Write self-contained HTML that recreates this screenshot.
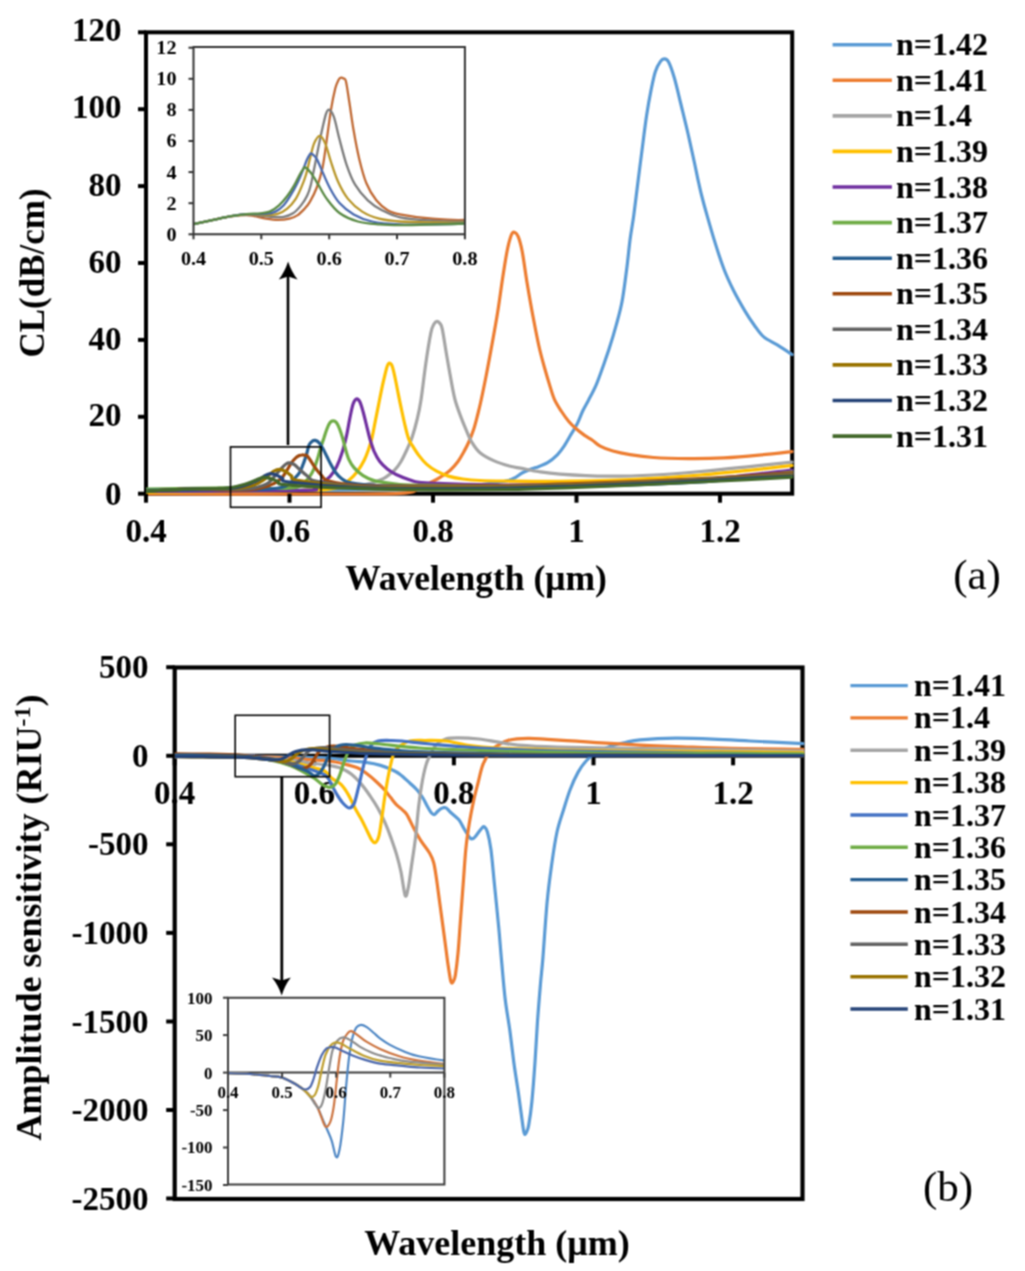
<!DOCTYPE html>
<html><head><meta charset="utf-8"><title>figure</title>
<style>html,body{margin:0;padding:0;background:#fff;} body{width:1025px;height:1271px;position:relative;overflow:hidden;font-family:"Liberation Serif",serif;}</style>
</head><body>
<svg width="1025" height="1271" viewBox="0 0 1025 1271" style="position:absolute;left:0;top:0">
<defs><filter id="bl" color-interpolation-filters="sRGB" x="0" y="0" width="1025" height="1271" filterUnits="userSpaceOnUse"><feConvolveMatrix order="3" kernelMatrix="1 2 1 2 4 2 1 2 1" divisor="16" edgeMode="duplicate"/></filter><clipPath id="ca"><rect x="146" y="0" width="648" height="500"/></clipPath><clipPath id="cb"><rect x="174.7" y="600" width="630" height="600"/></clipPath><clipPath id="cia"><rect x="193.5" y="40" width="271.5" height="200"/></clipPath><clipPath id="cib"><rect x="228" y="990" width="216.5" height="200"/></clipPath></defs>
<g filter="url(#bl)"><rect width="1025" height="1271" fill="#fff"/>
<rect x="146.0" y="32.3" width="646.2" height="461.4" fill="none" stroke="#000" stroke-width="4"/>
<g clip-path="url(#ca)" fill="none" stroke-width="3.2" stroke-linejoin="round" stroke-linecap="round">
<path d="M146.0,491.0 C171.7,490.9 249.3,491.2 300.0,490.5 C350.7,489.8 416.7,488.4 450.0,487.0 C483.3,485.6 489.4,483.4 500.0,482.0 C510.6,480.6 509.6,480.0 513.3,478.5 C517.0,477.0 519.2,474.5 522.0,473.0 C524.8,471.5 527.7,470.4 530.0,469.5 C532.3,468.6 533.0,468.7 535.9,467.6 C538.8,466.5 544.0,464.8 547.6,462.7 C551.2,460.6 554.5,457.7 557.3,454.9 C560.0,452.1 561.8,449.5 564.1,446.1 C566.4,442.7 568.9,438.0 571.0,434.4 C573.1,430.8 574.8,428.5 576.8,424.6 C578.8,420.7 580.8,415.1 582.7,411.0 C584.7,406.9 586.2,404.6 588.5,400.2 C590.8,395.8 594.0,390.0 596.3,384.6 C598.6,379.2 600.4,374.0 602.5,368.0 C604.6,362.0 606.9,355.7 609.2,348.6 C611.5,341.5 614.1,333.0 616.2,325.2 C618.3,317.4 620.2,311.2 622.0,301.8 C623.8,292.4 625.3,279.6 626.7,269.0 C628.1,258.4 629.0,247.5 630.2,238.5 C631.4,229.5 632.5,224.8 633.8,215.1 C635.1,205.3 636.9,190.3 638.2,180.0 C639.5,169.7 640.2,164.1 641.6,153.4 C643.0,142.7 645.0,126.1 646.6,115.6 C648.2,105.1 649.5,97.8 651.0,90.4 C652.5,83.1 653.8,76.3 655.4,71.5 C657.0,66.7 659.0,63.5 660.5,61.4 C662.0,59.3 662.9,58.8 664.2,58.9 C665.6,59.0 666.9,58.9 668.6,62.0 C670.3,65.2 672.3,71.0 674.3,77.8 C676.3,84.6 678.3,93.5 680.6,103.0 C682.9,112.5 685.9,124.5 688.2,134.5 C690.5,144.5 692.8,155.1 694.5,163.0 C696.2,170.9 697.3,176.7 698.5,182.0 C699.7,187.3 700.2,189.9 701.5,195.0 C702.8,200.1 704.1,205.2 706.3,212.8 C708.5,220.5 711.6,231.5 714.5,240.9 C717.4,250.3 720.8,260.8 723.9,269.0 C727.0,277.2 729.8,283.0 733.3,290.0 C736.8,297.0 741.5,305.2 745.0,311.1 C748.5,317.0 751.2,320.9 754.3,325.2 C757.4,329.5 759.8,333.6 763.7,336.9 C767.6,340.2 773.0,342.2 777.7,345.1 C782.4,348.0 789.6,352.9 792.0,354.5" stroke="#5B9BD5"/>
<path d="M146.0,494.0 C171.7,494.0 257.7,494.1 300.0,494.0 C342.3,493.9 380.0,494.4 400.0,493.3 C420.0,492.2 414.7,489.4 420.0,487.5 C425.3,485.6 428.3,483.7 431.7,482.0 C435.1,480.3 437.4,479.1 440.5,477.1 C443.6,475.1 447.3,472.8 450.2,470.2 C453.1,467.6 455.7,464.6 458.0,461.5 C460.3,458.4 462.1,454.9 463.9,451.7 C465.7,448.4 467.2,445.7 468.8,442.0 C470.4,438.3 472.2,433.8 473.7,429.3 C475.2,424.8 476.5,419.4 477.6,415.0 C478.7,410.6 479.1,409.2 480.5,403.0 C481.9,396.8 483.8,387.5 485.7,378.0 C487.6,368.5 489.7,356.9 491.7,346.0 C493.7,335.1 495.8,323.7 497.6,312.5 C499.4,301.3 500.9,289.5 502.5,279.0 C504.1,268.5 505.9,256.8 507.4,249.5 C508.9,242.2 510.2,237.9 511.3,235.0 C512.5,232.1 513.1,231.9 514.3,232.2 C515.4,232.5 516.9,233.5 518.2,236.7 C519.5,239.9 520.7,243.8 522.2,251.5 C523.7,259.2 525.3,272.2 527.1,283.0 C528.9,293.8 531.0,306.0 533.0,316.5 C535.0,327.0 537.0,337.4 538.9,346.0 C540.8,354.6 542.8,361.6 544.6,368.0 C546.4,374.4 547.9,379.4 549.5,384.6 C551.1,389.8 552.4,394.9 554.4,399.3 C556.4,403.7 558.8,407.3 561.2,411.0 C563.6,414.7 566.5,418.8 569.0,421.7 C571.5,424.6 573.3,426.2 575.9,428.5 C578.5,430.8 581.9,433.4 584.6,435.4 C587.4,437.3 589.8,438.4 592.4,440.2 C595.0,442.0 596.8,444.3 600.2,446.1 C603.6,447.9 607.9,449.6 612.9,451.0 C617.9,452.4 623.2,453.5 630.0,454.6 C636.8,455.7 643.9,456.8 653.7,457.5 C663.5,458.2 677.1,458.5 688.8,458.6 C700.5,458.7 712.2,458.5 723.9,457.9 C735.6,457.3 747.6,456.2 759.0,455.1 C770.4,454.1 786.5,452.2 792.0,451.6" stroke="#ED7D31"/>
<path d="M146.0,492.0 C171.7,491.7 266.0,490.8 300.0,490.0 C334.0,489.2 338.3,488.6 350.0,487.5 C361.7,486.4 365.0,484.8 370.0,483.5 C375.0,482.2 377.4,481.1 380.0,480.0 C382.6,478.9 383.5,478.7 385.9,477.1 C388.3,475.5 392.1,472.8 394.6,470.2 C397.1,467.6 398.9,465.1 401.0,461.5 C403.1,457.9 405.4,452.9 407.3,448.8 C409.2,444.7 410.6,442.0 412.2,437.1 C413.8,432.2 415.6,425.7 417.1,419.5 C418.6,413.3 419.6,409.2 421.0,400.0 C422.4,390.8 424.1,375.5 425.7,364.3 C427.3,353.1 429.5,339.4 430.9,332.7 C432.3,326.0 433.0,325.9 434.0,324.0 C435.0,322.1 436.1,321.4 437.1,321.3 C438.1,321.2 439.1,322.2 440.0,323.5 C440.9,324.8 441.2,323.9 442.3,329.2 C443.4,334.5 445.1,346.1 446.7,355.5 C448.3,364.9 450.6,378.0 452.0,385.4 C453.4,392.8 453.8,395.1 455.1,400.0 C456.4,404.9 458.2,409.7 460.0,414.6 C461.8,419.5 463.9,424.7 465.9,429.3 C467.8,433.9 469.3,438.1 471.7,442.0 C474.1,445.9 476.2,449.6 480.0,452.7 C483.8,455.8 489.3,458.7 494.2,460.9 C499.1,463.1 504.2,464.6 509.4,466.0 C514.5,467.4 520.3,468.1 525.1,469.0 C529.9,469.9 532.3,470.6 538.1,471.5 C543.9,472.4 548.5,473.3 560.0,474.1 C571.5,474.9 591.2,476.1 606.8,476.2 C622.4,476.3 638.1,475.8 653.7,475.0 C669.3,474.2 684.9,472.9 700.5,471.5 C716.1,470.1 732.0,468.4 747.3,466.8 C762.5,465.2 784.5,462.9 792.0,462.1" stroke="#A5A5A5"/>
<path d="M146.0,492.5 C171.7,492.2 269.3,491.1 300.0,490.5 C330.7,489.9 323.3,489.8 330.0,489.0 C336.7,488.2 336.7,487.6 340.0,486.0 C343.3,484.4 346.9,482.0 349.8,479.5 C352.7,477.0 355.1,474.4 357.5,471.2 C359.9,468.0 362.3,463.9 364.2,460.2 C366.1,456.5 367.3,452.9 368.6,449.2 C369.9,445.5 370.8,442.8 371.9,438.2 C373.0,433.6 374.1,427.1 375.2,421.6 C376.3,416.1 377.4,410.6 378.5,405.1 C379.6,399.6 380.7,393.8 381.8,388.6 C382.9,383.5 384.2,378.0 385.1,374.2 C386.0,370.4 386.6,367.8 387.3,366.0 C388.0,364.2 388.7,363.1 389.5,363.2 C390.3,363.3 391.4,364.1 392.3,366.5 C393.2,368.9 394.0,372.9 395.0,377.5 C396.0,382.1 397.2,388.5 398.3,394.1 C399.4,399.7 400.7,405.9 401.8,411.0 C402.9,416.1 403.7,419.8 404.8,424.5 C405.9,429.2 407.3,435.3 408.7,439.0 C410.1,442.7 411.3,443.7 413.0,446.5 C414.7,449.3 416.7,452.6 419.0,455.6 C421.3,458.6 423.9,461.8 426.8,464.4 C429.7,467.0 433.0,469.2 436.6,471.2 C440.2,473.1 443.9,474.8 448.3,476.1 C452.7,477.4 457.6,478.3 462.9,479.0 C468.2,479.7 473.3,480.2 480.0,480.5 C486.7,480.8 489.6,480.9 502.9,481.0 C516.2,481.1 538.8,481.5 560.0,481.3 C581.2,481.1 606.8,480.8 630.2,479.7 C653.6,478.6 673.5,477.3 700.5,475.0 C727.5,472.7 776.8,467.2 792.0,465.7" stroke="#FFC000"/>
<path d="M146.0,491.5 C171.7,491.3 271.8,491.1 300.0,490.5 C328.2,489.9 311.2,489.4 315.0,488.0 C318.8,486.6 320.5,483.9 323.0,482.0 C325.5,480.1 327.7,479.2 330.0,476.7 C332.3,474.2 334.6,470.8 336.6,466.8 C338.6,462.8 340.5,457.6 342.1,452.5 C343.8,447.4 345.2,441.6 346.5,435.9 C347.8,430.2 348.7,423.6 349.8,418.3 C350.9,413.0 352.0,407.2 353.1,404.0 C354.2,400.8 355.3,399.4 356.4,399.0 C357.5,398.6 358.7,399.7 359.8,401.8 C360.9,403.9 362.0,407.9 363.1,411.7 C364.2,415.5 365.3,420.5 366.4,424.9 C367.5,429.3 368.4,433.8 369.7,438.2 C371.0,442.6 372.5,447.5 374.1,451.4 C375.8,455.2 377.4,458.4 379.6,461.3 C381.8,464.2 384.6,466.8 387.3,469.0 C390.1,471.2 392.3,472.7 396.1,474.5 C399.9,476.3 406.2,478.7 410.0,480.0 C413.8,481.3 414.2,481.8 419.0,482.4 C423.8,483.0 425.0,483.0 438.5,483.4 C452.0,483.8 473.1,484.8 500.0,485.0 C526.9,485.2 566.7,485.3 600.0,484.5 C633.3,483.7 668.0,482.4 700.0,480.0 C732.0,477.6 776.7,471.7 792.0,470.0" stroke="#7030A0"/>
<path d="M146.0,489.0 C160.0,488.8 207.7,487.9 230.0,487.8 C252.3,487.7 268.7,488.6 280.0,488.5 C291.3,488.4 293.8,488.1 298.0,487.0 C302.2,485.9 303.0,483.8 305.0,482.0 C307.0,480.2 308.4,478.5 309.8,476.4 C311.2,474.3 312.4,472.3 313.7,469.3 C315.0,466.3 316.4,462.0 317.6,458.4 C318.8,454.8 319.6,450.9 320.7,447.5 C321.8,444.1 322.8,441.2 323.9,438.1 C324.9,435.0 326.0,431.3 327.0,428.7 C328.0,426.1 329.1,423.8 330.1,422.5 C331.1,421.2 332.1,420.9 333.2,420.9 C334.2,420.9 335.3,421.2 336.4,422.5 C337.4,423.8 338.5,426.1 339.5,428.7 C340.5,431.3 341.7,434.9 342.6,438.1 C343.6,441.3 344.2,444.5 345.2,448.0 C346.2,451.5 347.2,455.8 348.7,459.1 C350.2,462.4 351.8,465.1 354.2,467.9 C356.6,470.6 359.8,473.5 363.1,475.6 C366.4,477.7 369.5,479.3 374.1,480.6 C378.7,481.9 384.6,482.6 390.6,483.3 C396.6,484.0 391.8,484.6 410.0,485.0 C428.2,485.4 468.3,485.9 500.0,486.0 C531.7,486.1 566.7,486.3 600.0,485.5 C633.3,484.7 668.0,483.2 700.0,481.0 C732.0,478.8 776.7,473.5 792.0,472.0" stroke="#70AD47"/>
<path d="M146.0,490.3 C160.0,490.2 211.0,489.6 230.0,489.5 C249.0,489.4 250.8,490.0 260.0,489.5 C269.2,489.0 278.9,488.7 285.0,486.5 C291.1,484.3 293.9,479.0 296.5,476.4 C299.1,473.8 299.2,473.1 300.4,470.9 C301.6,468.7 302.6,466.0 303.6,463.1 C304.7,460.2 305.8,456.7 306.7,453.7 C307.6,450.7 308.1,447.2 309.0,445.1 C309.9,443.0 311.1,442.0 312.2,441.2 C313.2,440.4 314.1,440.1 315.3,440.4 C316.5,440.7 317.9,441.4 319.2,442.8 C320.5,444.2 321.8,446.7 323.1,449.0 C324.4,451.3 325.7,454.2 327.0,456.8 C328.3,459.4 329.5,462.0 330.9,464.6 C332.3,467.2 333.8,470.1 335.6,472.5 C337.4,474.9 339.4,477.0 341.8,478.7 C344.2,480.4 344.0,481.5 350.0,482.6 C356.0,483.7 361.3,484.8 378.0,485.5 C394.7,486.2 429.7,486.7 450.0,487.0 C470.3,487.3 475.0,487.7 500.0,487.5 C525.0,487.3 566.7,486.9 600.0,486.0 C633.3,485.1 668.0,484.1 700.0,482.0 C732.0,479.9 776.7,474.9 792.0,473.5" stroke="#255E91"/>
<path d="M146.0,491.2 C149.5,491.0 160.4,490.4 167.0,490.1 C173.7,489.8 179.9,489.4 185.7,489.2 C191.4,489.1 197.6,488.9 201.7,488.9 C205.9,488.9 206.9,489.1 210.4,489.2 C213.9,489.4 218.6,489.7 222.8,489.8 C226.9,490.0 231.0,490.1 235.1,490.1 C239.3,490.1 244.0,490.0 247.5,489.8 C251.0,489.6 253.5,489.4 256.2,489.0 C258.9,488.5 261.4,487.9 263.6,487.3 C265.8,486.8 267.1,486.5 269.2,485.6 C271.3,484.7 274.2,483.5 276.4,482.1 C278.6,480.7 280.7,479.2 282.4,477.2 C284.2,475.2 285.5,472.6 287.0,470.2 C288.5,467.8 289.9,465.0 291.4,462.9 C292.9,460.8 294.6,458.8 296.0,457.6 C297.3,456.4 298.3,456.0 299.3,455.5 C300.3,455.1 301.0,455.0 301.9,455.0 C302.8,454.9 303.7,455.0 304.6,455.2 C305.5,455.3 306.1,454.9 307.2,455.9 C308.2,456.9 309.5,459.1 310.9,461.1 C312.2,463.2 313.7,465.8 315.4,468.1 C317.2,470.4 319.1,473.0 321.3,475.1 C323.6,477.3 322.2,479.3 328.8,481.1 C335.5,482.8 343.9,484.8 361.2,485.6 C378.6,486.4 409.1,486.0 433.0,486.0 C456.9,486.0 480.8,486.0 504.8,485.6 C528.7,485.2 552.6,484.5 576.5,483.7 C600.4,482.9 624.3,482.0 648.2,481.0 C672.2,480.0 696.1,478.9 720.0,477.6 C743.9,476.2 779.8,473.7 791.8,472.9" stroke="#9E480E"/>
<path d="M146.0,491.2 C149.5,491.0 160.4,490.4 167.0,490.1 C173.7,489.8 179.9,489.4 185.7,489.2 C191.4,489.0 196.6,488.8 201.7,488.8 C206.8,488.8 211.8,489.0 216.3,489.1 C220.9,489.2 224.8,489.3 229.0,489.4 C233.2,489.4 237.7,489.5 241.4,489.4 C245.1,489.2 248.1,489.0 251.2,488.5 C254.3,488.0 257.4,487.2 259.9,486.5 C262.4,485.8 264.4,485.0 266.1,484.2 C267.8,483.4 268.7,482.7 270.0,481.5 C271.3,480.3 272.6,478.6 274.0,477.1 C275.3,475.5 276.6,473.9 278.0,472.3 C279.4,470.7 281.1,468.8 282.4,467.4 C283.8,466.0 285.0,464.7 286.1,464.0 C287.2,463.2 287.8,462.8 289.2,462.9 C290.6,463.0 292.5,463.4 294.4,464.6 C296.2,465.8 298.1,468.2 300.4,470.2 C302.6,472.2 305.2,474.6 307.9,476.5 C310.6,478.4 308.0,479.8 316.9,481.4 C325.8,483.1 341.9,485.5 361.2,486.4 C380.6,487.3 409.1,486.8 433.0,486.8 C456.9,486.8 480.8,486.8 504.8,486.4 C528.7,486.0 552.6,485.2 576.5,484.5 C600.4,483.7 624.3,482.8 648.2,481.8 C672.2,480.8 696.1,479.6 720.0,478.3 C743.9,477.0 779.8,474.8 791.8,474.1" stroke="#636363"/>
<path d="M146.0,491.2 C149.5,491.0 160.4,490.4 167.0,490.1 C173.7,489.8 179.9,489.5 185.7,489.2 C191.4,489.0 195.5,488.8 201.7,488.8 C207.9,488.7 217.2,489.0 222.8,489.0 C228.3,488.9 231.4,488.9 235.1,488.7 C238.9,488.4 242.0,487.9 245.1,487.3 C248.2,486.7 251.3,485.9 253.8,485.0 C256.2,484.2 258.0,483.2 259.9,482.2 C261.7,481.2 263.3,480.2 264.9,479.0 C266.4,477.9 267.6,476.4 269.0,475.1 C270.4,473.8 271.7,472.2 273.4,471.3 C275.2,470.3 277.5,469.3 279.5,469.3 C281.4,469.3 283.4,470.2 285.4,471.3 C287.4,472.4 289.1,474.2 291.4,475.8 C293.7,477.4 287.3,478.8 298.9,480.7 C310.6,482.6 338.9,486.0 361.2,487.2 C383.6,488.3 409.1,487.5 433.0,487.5 C456.9,487.5 480.8,487.5 504.8,487.2 C528.7,486.8 552.6,486.0 576.5,485.2 C600.4,484.5 624.3,483.6 648.2,482.5 C672.2,481.5 696.1,480.3 720.0,479.1 C743.9,477.9 779.8,475.9 791.8,475.2" stroke="#997300"/>
<path d="M146.0,491.2 C149.5,491.0 160.4,490.4 167.0,490.1 C173.7,489.8 179.9,489.5 185.7,489.2 C191.4,489.0 195.5,488.8 201.7,488.7 C207.9,488.6 217.6,488.8 222.8,488.7 C227.9,488.5 229.6,488.4 232.7,488.1 C235.8,487.7 238.7,487.2 241.4,486.5 C244.1,485.9 246.4,484.9 248.8,484.0 C251.1,483.1 253.3,482.2 255.4,481.2 C257.6,480.2 259.7,478.9 261.5,477.9 C263.2,476.9 264.7,475.9 265.9,475.3 C267.1,474.6 267.9,474.4 268.7,474.1 C269.5,473.8 269.5,473.5 270.8,473.7 C272.1,473.9 274.4,474.4 276.4,475.1 C278.3,475.9 280.2,477.1 282.4,478.3 C284.7,479.4 276.8,480.5 289.9,482.1 C303.1,483.7 337.4,486.9 361.2,487.9 C385.1,489.0 409.1,488.5 433.0,488.5 C456.9,488.5 480.8,488.5 504.8,488.1 C528.7,487.7 552.6,486.8 576.5,486.0 C600.4,485.2 624.3,484.3 648.2,483.3 C672.2,482.3 696.1,481.1 720.0,479.9 C743.9,478.6 779.8,476.7 791.8,476.0" stroke="#264478"/>
<path d="M146.0,491.2 C149.5,491.0 160.4,490.4 167.0,490.1 C173.7,489.8 179.9,489.5 185.7,489.2 C191.4,489.0 196.6,488.8 201.7,488.7 C206.9,488.6 212.4,488.6 216.5,488.5 C220.7,488.4 223.2,488.4 226.5,488.1 C229.8,487.8 233.3,487.2 236.4,486.5 C239.5,485.9 242.3,485.1 245.0,484.3 C247.7,483.5 250.2,482.5 252.5,481.6 C254.7,480.7 256.9,479.6 258.4,478.9 C260.0,478.3 260.8,478.0 261.8,477.7 C262.7,477.4 262.7,477.0 264.1,477.2 C265.6,477.3 268.2,477.9 270.5,478.6 C272.8,479.3 275.2,480.4 278.0,481.4 C280.7,482.5 273.1,483.7 287.0,484.9 C300.8,486.2 336.9,487.9 361.2,488.7 C385.6,489.5 409.1,489.7 433.0,489.9 C456.9,490.0 480.8,489.9 504.8,489.5 C528.7,489.1 552.6,488.2 576.5,487.4 C600.4,486.5 624.3,485.5 648.2,484.5 C672.2,483.4 696.1,482.2 720.0,481.0 C743.9,479.8 779.8,477.8 791.8,477.2" stroke="#43682B"/>
</g>
<line x1="138.0" y1="493.7" x2="146.0" y2="493.7" stroke="#000" stroke-width="4"/>
<text x="121.5" y="504.5" text-anchor="end" font-family='"Liberation Serif", serif' font-weight="bold" font-size="33">0</text>
<line x1="138.0" y1="416.8" x2="146.0" y2="416.8" stroke="#000" stroke-width="4"/>
<text x="121.5" y="426.2" text-anchor="end" font-family='"Liberation Serif", serif' font-weight="bold" font-size="33">20</text>
<line x1="138.0" y1="339.9" x2="146.0" y2="339.9" stroke="#000" stroke-width="4"/>
<text x="121.5" y="349.8" text-anchor="end" font-family='"Liberation Serif", serif' font-weight="bold" font-size="33">40</text>
<line x1="138.0" y1="263.0" x2="146.0" y2="263.0" stroke="#000" stroke-width="4"/>
<text x="121.5" y="273.2" text-anchor="end" font-family='"Liberation Serif", serif' font-weight="bold" font-size="33">60</text>
<line x1="138.0" y1="186.1" x2="146.0" y2="186.1" stroke="#000" stroke-width="4"/>
<text x="121.5" y="196.4" text-anchor="end" font-family='"Liberation Serif", serif' font-weight="bold" font-size="33">80</text>
<line x1="138.0" y1="109.2" x2="146.0" y2="109.2" stroke="#000" stroke-width="4"/>
<text x="121.5" y="117.8" text-anchor="end" font-family='"Liberation Serif", serif' font-weight="bold" font-size="33">100</text>
<line x1="138.0" y1="32.3" x2="146.0" y2="32.3" stroke="#000" stroke-width="4"/>
<text x="121.5" y="41.0" text-anchor="end" font-family='"Liberation Serif", serif' font-weight="bold" font-size="33">120</text>
<line x1="146.0" y1="493.7" x2="146.0" y2="502.7" stroke="#000" stroke-width="4"/>
<text x="146.0" y="542" text-anchor="middle" font-family='"Liberation Serif", serif' font-weight="bold" font-size="33">0.4</text>
<line x1="289.5" y1="493.7" x2="289.5" y2="502.7" stroke="#000" stroke-width="4"/>
<text x="289.5" y="542" text-anchor="middle" font-family='"Liberation Serif", serif' font-weight="bold" font-size="33">0.6</text>
<line x1="433.0" y1="493.7" x2="433.0" y2="502.7" stroke="#000" stroke-width="4"/>
<text x="433.0" y="542" text-anchor="middle" font-family='"Liberation Serif", serif' font-weight="bold" font-size="33">0.8</text>
<line x1="576.5" y1="493.7" x2="576.5" y2="502.7" stroke="#000" stroke-width="4"/>
<text x="576.5" y="542" text-anchor="middle" font-family='"Liberation Serif", serif' font-weight="bold" font-size="33">1</text>
<line x1="720.0" y1="493.7" x2="720.0" y2="502.7" stroke="#000" stroke-width="4"/>
<text x="720.0" y="542" text-anchor="middle" font-family='"Liberation Serif", serif' font-weight="bold" font-size="33">1.2</text>
<text transform="translate(44,273) rotate(-90)" text-anchor="middle" font-family='"Liberation Serif", serif' font-weight="bold" font-size="35">CL(dB/cm)</text>
<text x="476" y="590" text-anchor="middle" font-family='"Liberation Serif", serif' font-weight="bold" font-size="35.5">Wavelength (μm)</text>
<text x="977" y="589" text-anchor="middle" font-family='"Liberation Serif", serif' font-size="43">(a)</text>
<line x1="832.6" y1="44.7" x2="891.9" y2="44.7" stroke="#5B9BD5" stroke-width="3.6"/>
<text x="896" y="55.2" font-family='"Liberation Serif", serif' font-weight="bold" font-size="32">n=1.42</text>
<line x1="832.6" y1="80.3" x2="891.9" y2="80.3" stroke="#ED7D31" stroke-width="3.6"/>
<text x="896" y="90.8" font-family='"Liberation Serif", serif' font-weight="bold" font-size="32">n=1.41</text>
<line x1="832.6" y1="115.9" x2="891.9" y2="115.9" stroke="#A5A5A5" stroke-width="3.6"/>
<text x="896" y="126.4" font-family='"Liberation Serif", serif' font-weight="bold" font-size="32">n=1.4</text>
<line x1="832.6" y1="151.4" x2="891.9" y2="151.4" stroke="#FFC000" stroke-width="3.6"/>
<text x="896" y="161.9" font-family='"Liberation Serif", serif' font-weight="bold" font-size="32">n=1.39</text>
<line x1="832.6" y1="187.0" x2="891.9" y2="187.0" stroke="#7030A0" stroke-width="3.6"/>
<text x="896" y="197.5" font-family='"Liberation Serif", serif' font-weight="bold" font-size="32">n=1.38</text>
<line x1="832.6" y1="222.6" x2="891.9" y2="222.6" stroke="#70AD47" stroke-width="3.6"/>
<text x="896" y="233.1" font-family='"Liberation Serif", serif' font-weight="bold" font-size="32">n=1.37</text>
<line x1="832.6" y1="258.2" x2="891.9" y2="258.2" stroke="#255E91" stroke-width="3.6"/>
<text x="896" y="268.7" font-family='"Liberation Serif", serif' font-weight="bold" font-size="32">n=1.36</text>
<line x1="832.6" y1="293.8" x2="891.9" y2="293.8" stroke="#9E480E" stroke-width="3.6"/>
<text x="896" y="304.3" font-family='"Liberation Serif", serif' font-weight="bold" font-size="32">n=1.35</text>
<line x1="832.6" y1="329.3" x2="891.9" y2="329.3" stroke="#636363" stroke-width="3.6"/>
<text x="896" y="339.8" font-family='"Liberation Serif", serif' font-weight="bold" font-size="32">n=1.34</text>
<line x1="832.6" y1="364.9" x2="891.9" y2="364.9" stroke="#997300" stroke-width="3.6"/>
<text x="896" y="375.4" font-family='"Liberation Serif", serif' font-weight="bold" font-size="32">n=1.33</text>
<line x1="832.6" y1="400.5" x2="891.9" y2="400.5" stroke="#264478" stroke-width="3.6"/>
<text x="896" y="411.0" font-family='"Liberation Serif", serif' font-weight="bold" font-size="32">n=1.32</text>
<line x1="832.6" y1="436.1" x2="891.9" y2="436.1" stroke="#43682B" stroke-width="3.6"/>
<text x="896" y="446.6" font-family='"Liberation Serif", serif' font-weight="bold" font-size="32">n=1.31</text>
<rect x="193.5" y="47.1" width="271.4" height="187.20000000000002" fill="#fff" stroke="none"/>
<g clip-path="url(#cia)" fill="none" stroke-width="2.3" stroke-linejoin="round">
<path d="M193.5,224.1 C196.8,223.4 207.2,221.1 213.4,219.8 C219.7,218.5 225.5,217.1 231.0,216.3 C236.5,215.5 242.3,215.0 246.2,215.0 C250.1,215.0 251.1,215.6 254.4,216.2 C257.7,216.8 262.2,218.0 266.1,218.6 C270.0,219.2 273.9,219.8 277.8,219.8 C281.7,219.8 286.2,219.4 289.5,218.6 C292.8,217.8 295.2,216.8 297.7,215.1 C300.2,213.4 302.6,210.8 304.7,208.6 C306.8,206.3 308.0,205.1 310.0,201.6 C312.0,198.1 314.7,193.2 316.8,187.5 C318.9,181.8 320.8,175.7 322.5,167.7 C324.2,159.7 325.4,149.0 326.8,139.3 C328.2,129.6 329.6,118.1 331.0,109.6 C332.4,101.1 334.1,93.2 335.3,88.3 C336.6,83.4 337.6,81.8 338.5,80.0 C339.4,78.2 340.1,77.9 340.9,77.7 C341.7,77.4 342.7,77.9 343.5,78.5 C344.3,79.1 344.9,77.3 345.9,81.3 C346.9,85.3 348.1,94.2 349.4,102.5 C350.7,110.8 352.0,121.4 353.7,130.8 C355.3,140.2 357.2,150.4 359.3,159.2 C361.4,167.9 363.6,176.5 366.4,183.3 C369.2,190.2 372.8,195.8 376.3,200.3 C379.9,204.8 383.7,207.8 387.7,210.2 C391.6,212.5 392.9,213.0 400.0,214.4 C407.1,215.8 419.2,217.6 430.0,218.5 C440.8,219.4 447.8,220.5 464.9,220.0 C482.0,219.5 510.1,218.1 532.8,215.6 C555.4,213.2 578.0,209.4 600.6,205.5 C623.2,201.6 645.8,197.2 668.5,192.3 C691.1,187.4 713.7,181.9 736.3,176.0 C758.9,170.0 792.8,159.8 804.1,156.6" stroke="#C06A35"/>
<path d="M193.5,224.1 C196.8,223.4 207.2,221.1 213.4,219.8 C219.7,218.5 225.5,217.1 231.0,216.2 C236.5,215.3 241.4,214.5 246.2,214.4 C251.0,214.3 255.7,215.1 260.0,215.5 C264.3,215.9 268.1,216.6 272.0,216.8 C275.9,217.0 280.2,217.4 283.7,216.8 C287.2,216.2 290.1,215.2 293.0,213.3 C295.9,211.4 298.9,208.0 301.2,205.1 C303.6,202.2 305.5,199.2 307.1,195.8 C308.7,192.5 309.6,189.8 310.8,185.0 C312.0,180.2 313.2,173.2 314.5,167.0 C315.8,160.8 317.0,154.3 318.3,147.8 C319.6,141.3 321.2,133.6 322.5,128.0 C323.8,122.4 324.9,117.1 326.0,114.0 C327.1,110.9 327.6,109.2 328.9,109.6 C330.2,110.1 332.0,111.8 333.8,116.7 C335.6,121.7 337.4,131.3 339.5,139.3 C341.6,147.3 344.0,157.2 346.6,164.8 C349.2,172.4 351.6,178.8 355.1,184.7 C358.6,190.6 363.3,196.1 367.8,200.3 C372.3,204.6 376.6,207.4 382.0,210.2 C387.4,213.0 392.0,215.6 400.0,217.3 C408.0,219.0 419.2,219.8 430.0,220.5 C440.8,221.2 447.8,222.1 464.9,221.5 C482.0,220.9 510.1,219.5 532.8,217.2 C555.4,214.9 578.0,211.5 600.6,207.9 C623.2,204.2 645.8,200.1 668.5,195.4 C691.1,190.8 713.7,185.6 736.3,179.9 C758.9,174.2 792.8,164.3 804.1,161.2" stroke="#7C7C7C"/>
<path d="M193.5,224.1 C196.8,223.4 207.2,221.1 213.4,219.8 C219.7,218.5 225.5,217.1 231.0,216.2 C236.5,215.3 240.3,214.5 246.2,214.3 C252.0,214.1 260.8,215.2 266.1,215.1 C271.4,215.0 274.3,215.0 277.8,213.9 C281.3,212.8 284.3,211.0 287.2,208.6 C290.1,206.2 293.1,202.8 295.4,199.3 C297.7,195.8 299.5,191.7 301.2,187.6 C303.0,183.5 304.5,179.7 305.9,175.0 C307.3,170.3 308.5,164.4 309.8,159.2 C311.2,154.0 312.4,147.5 314.0,143.6 C315.7,139.7 317.8,135.8 319.7,135.8 C321.6,135.8 323.4,139.2 325.3,143.6 C327.2,148.0 328.9,155.6 331.0,162.0 C333.1,168.4 335.3,175.7 338.1,181.8 C340.9,188.0 344.0,193.9 348.0,198.9 C352.0,203.9 357.0,208.3 362.2,211.6 C367.4,214.9 372.9,217.0 379.2,218.7 C385.5,220.3 391.5,220.9 400.0,221.5 C408.5,222.1 419.2,222.2 430.0,222.3 C440.8,222.4 447.8,223.0 464.9,222.3 C482.0,221.6 510.1,220.1 532.8,218.0 C555.4,215.8 578.0,212.8 600.6,209.4 C623.2,206.1 645.8,202.2 668.5,197.8 C691.1,193.4 713.7,188.3 736.3,183.0 C758.9,177.7 792.8,168.7 804.1,165.9" stroke="#B8962A"/>
<path d="M193.5,224.1 C196.8,223.4 207.2,221.1 213.4,219.8 C219.7,218.5 225.5,217.1 231.0,216.2 C236.5,215.3 240.3,214.6 246.2,214.2 C252.0,213.8 261.2,214.3 266.1,213.9 C271.0,213.5 272.6,213.0 275.5,211.6 C278.4,210.2 281.2,208.0 283.7,205.3 C286.2,202.6 288.5,198.8 290.7,195.2 C292.9,191.6 295.0,187.9 297.0,183.8 C299.0,179.7 301.1,174.5 302.7,170.5 C304.3,166.5 305.8,162.4 306.9,159.8 C308.0,157.2 308.7,156.1 309.5,155.0 C310.3,153.9 310.3,152.8 311.5,153.5 C312.7,154.2 315.0,156.1 316.8,159.2 C318.6,162.3 320.4,167.2 322.5,171.9 C324.6,176.6 326.8,182.3 329.6,187.5 C332.4,192.7 335.5,198.6 339.5,203.1 C343.5,207.6 348.3,211.3 353.7,214.4 C359.1,217.5 364.4,219.8 372.1,221.5 C379.8,223.2 390.4,223.9 400.0,224.4 C409.6,224.9 419.2,224.5 430.0,224.3 C440.8,224.2 447.8,224.4 464.9,223.5 C482.0,222.6 510.1,220.8 532.8,218.8 C555.4,216.7 578.0,214.1 600.6,211.0 C623.2,207.9 645.8,204.2 668.5,200.1 C691.1,195.9 713.7,191.0 736.3,186.1 C758.9,181.2 792.8,173.1 804.1,170.5" stroke="#4A6AAE"/>
<path d="M193.5,224.1 C196.8,223.4 207.2,221.1 213.4,219.8 C219.7,218.5 225.5,217.1 231.0,216.2 C236.5,215.3 241.3,214.7 246.2,214.2 C251.1,213.7 256.3,213.7 260.2,213.3 C264.1,212.9 266.5,212.9 269.6,211.6 C272.7,210.3 276.1,207.9 279.0,205.3 C281.9,202.8 284.6,199.6 287.1,196.3 C289.6,193.0 292.1,188.9 294.2,185.3 C296.3,181.7 298.3,177.1 299.8,174.5 C301.3,171.9 302.1,170.7 303.0,169.5 C303.9,168.3 303.8,166.8 305.2,167.4 C306.6,168.0 309.0,170.4 311.2,173.3 C313.4,176.2 315.7,180.4 318.3,184.7 C320.9,189.0 323.3,194.2 326.8,198.9 C330.3,203.6 334.3,209.2 339.5,213.0 C344.7,216.8 351.3,219.6 357.9,221.5 C364.5,223.4 372.2,223.8 379.2,224.4 C386.2,225.0 391.5,225.1 400.0,225.1 C408.5,225.1 419.2,224.8 430.0,224.5 C440.8,224.2 447.8,224.3 464.9,223.5 C482.0,222.7 510.1,221.4 532.8,219.5 C555.4,217.7 578.0,215.5 600.6,212.5 C623.2,209.5 645.8,205.5 668.5,201.6 C691.1,197.8 713.7,193.6 736.3,189.2 C758.9,184.8 792.8,177.5 804.1,175.2" stroke="#5A8A45"/>
</g>
<path d="M193.5,234.3 V47.1 H464.9 V234.3 Z" fill="none" stroke="#333" stroke-width="2"/>
<line x1="188.5" y1="234.3" x2="193.5" y2="234.3" stroke="#333" stroke-width="2"/>
<text x="176.5" y="240.8" text-anchor="end" font-family='"Liberation Serif", serif' font-weight="bold" font-size="18" transform="translate(176.5,0) scale(1.12,1) translate(-176.5,0)">0</text>
<line x1="188.5" y1="203.2" x2="193.5" y2="203.2" stroke="#333" stroke-width="2"/>
<text x="176.5" y="209.7" text-anchor="end" font-family='"Liberation Serif", serif' font-weight="bold" font-size="18" transform="translate(176.5,0) scale(1.12,1) translate(-176.5,0)">2</text>
<line x1="188.5" y1="172.1" x2="193.5" y2="172.1" stroke="#333" stroke-width="2"/>
<text x="176.5" y="178.6" text-anchor="end" font-family='"Liberation Serif", serif' font-weight="bold" font-size="18" transform="translate(176.5,0) scale(1.12,1) translate(-176.5,0)">4</text>
<line x1="188.5" y1="141.0" x2="193.5" y2="141.0" stroke="#333" stroke-width="2"/>
<text x="176.5" y="147.5" text-anchor="end" font-family='"Liberation Serif", serif' font-weight="bold" font-size="18" transform="translate(176.5,0) scale(1.12,1) translate(-176.5,0)">6</text>
<line x1="188.5" y1="109.9" x2="193.5" y2="109.9" stroke="#333" stroke-width="2"/>
<text x="176.5" y="116.4" text-anchor="end" font-family='"Liberation Serif", serif' font-weight="bold" font-size="18" transform="translate(176.5,0) scale(1.12,1) translate(-176.5,0)">8</text>
<line x1="188.5" y1="78.8" x2="193.5" y2="78.8" stroke="#333" stroke-width="2"/>
<text x="176.5" y="85.3" text-anchor="end" font-family='"Liberation Serif", serif' font-weight="bold" font-size="18" transform="translate(176.5,0) scale(1.12,1) translate(-176.5,0)">10</text>
<line x1="188.5" y1="47.7" x2="193.5" y2="47.7" stroke="#333" stroke-width="2"/>
<text x="176.5" y="54.2" text-anchor="end" font-family='"Liberation Serif", serif' font-weight="bold" font-size="18" transform="translate(176.5,0) scale(1.12,1) translate(-176.5,0)">12</text>
<line x1="193.5" y1="234.3" x2="193.5" y2="239.3" stroke="#333" stroke-width="2"/>
<text x="193.5" y="264.8" text-anchor="middle" font-family='"Liberation Serif", serif' font-weight="bold" font-size="18" transform="translate(193.5,0) scale(1.12,1) translate(-193.5,0)">0.4</text>
<line x1="261.3" y1="234.3" x2="261.3" y2="239.3" stroke="#333" stroke-width="2"/>
<text x="261.3" y="264.8" text-anchor="middle" font-family='"Liberation Serif", serif' font-weight="bold" font-size="18" transform="translate(261.3,0) scale(1.12,1) translate(-261.3,0)">0.5</text>
<line x1="329.2" y1="234.3" x2="329.2" y2="239.3" stroke="#333" stroke-width="2"/>
<text x="329.2" y="264.8" text-anchor="middle" font-family='"Liberation Serif", serif' font-weight="bold" font-size="18" transform="translate(329.2,0) scale(1.12,1) translate(-329.2,0)">0.6</text>
<line x1="397.0" y1="234.3" x2="397.0" y2="239.3" stroke="#333" stroke-width="2"/>
<text x="397.0" y="264.8" text-anchor="middle" font-family='"Liberation Serif", serif' font-weight="bold" font-size="18" transform="translate(397.0,0) scale(1.12,1) translate(-397.0,0)">0.7</text>
<line x1="464.9" y1="234.3" x2="464.9" y2="239.3" stroke="#333" stroke-width="2"/>
<text x="464.9" y="264.8" text-anchor="middle" font-family='"Liberation Serif", serif' font-weight="bold" font-size="18" transform="translate(464.9,0) scale(1.12,1) translate(-464.9,0)">0.8</text>
<rect x="230.5" y="446.9" width="90.6" height="60.4" fill="none" stroke="#000" stroke-width="1.6"/>
<line x1="288" y1="445" x2="288" y2="275" stroke="#000" stroke-width="2.6"/>
<path d="M288.1,261.6 Q291.5,272 297.6,279.6 L288.1,276.6 L278.8,279.6 Q284.7,272 288.1,261.6 Z" fill="#000"/>
<text x="174.7" y="804" text-anchor="middle" font-family='"Liberation Serif", serif' font-weight="bold" font-size="33">0.4</text>
<text x="314.3" y="804" text-anchor="middle" font-family='"Liberation Serif", serif' font-weight="bold" font-size="33">0.6</text>
<text x="453.9" y="804" text-anchor="middle" font-family='"Liberation Serif", serif' font-weight="bold" font-size="33">0.8</text>
<text x="593.5" y="804" text-anchor="middle" font-family='"Liberation Serif", serif' font-weight="bold" font-size="33">1</text>
<text x="733.1" y="804" text-anchor="middle" font-family='"Liberation Serif", serif' font-weight="bold" font-size="33">1.2</text>
<rect x="174.7" y="667.5" width="627.8" height="531.5" fill="none" stroke="#000" stroke-width="4.2"/>
<line x1="174.7" y1="755.8" x2="802.5" y2="755.8" stroke="#000" stroke-width="4"/>
<line x1="174.7" y1="755.8" x2="174.7" y2="765.3" stroke="#000" stroke-width="4"/>
<line x1="314.3" y1="755.8" x2="314.3" y2="765.3" stroke="#000" stroke-width="4"/>
<line x1="453.9" y1="755.8" x2="453.9" y2="765.3" stroke="#000" stroke-width="4"/>
<line x1="593.5" y1="755.8" x2="593.5" y2="765.3" stroke="#000" stroke-width="4"/>
<line x1="733.1" y1="755.8" x2="733.1" y2="765.3" stroke="#000" stroke-width="4"/>
<g clip-path="url(#cb)" fill="none" stroke-width="3.2" stroke-linejoin="round" stroke-linecap="round">
<path d="M174.7,756.2 C187.2,756.2 230.8,756.3 250.0,756.4 C269.2,756.5 279.2,756.8 290.0,757.0 C300.8,757.2 308.4,757.4 315.0,757.6 C321.6,757.8 323.3,757.4 329.3,758.0 C335.3,758.6 345.1,760.3 351.2,761.0 C357.3,761.7 361.0,761.7 365.9,762.4 C370.8,763.1 375.6,763.9 380.5,765.4 C385.4,766.9 391.5,769.4 395.1,771.2 C398.7,773.0 399.6,774.0 402.0,776.0 C404.4,778.0 407.3,780.7 409.8,783.0 C412.3,785.3 414.9,787.5 417.1,790.0 C419.3,792.5 421.2,795.3 422.9,798.0 C424.6,800.7 425.9,803.8 427.3,806.3 C428.7,808.8 430.3,811.6 431.5,813.0 C432.7,814.4 433.6,814.8 434.6,814.5 C435.6,814.2 436.5,812.4 437.5,811.5 C438.5,810.6 439.5,809.6 440.5,809.0 C441.5,808.4 442.3,807.9 443.3,807.7 C444.3,807.5 445.2,807.3 446.3,808.0 C447.4,808.7 448.1,810.0 450.2,812.0 C452.3,814.0 456.4,816.8 458.9,819.8 C461.3,822.8 463.0,827.2 464.9,830.2 C466.8,833.2 468.7,836.6 470.1,838.0 C471.5,839.4 472.4,838.9 473.4,838.5 C474.4,838.1 474.7,837.2 476.2,835.4 C477.7,833.6 480.9,829.0 482.3,827.6 C483.7,826.2 483.6,826.3 484.5,827.0 C485.4,827.7 486.3,828.3 487.4,832.0 C488.5,835.7 489.7,840.6 490.9,849.3 C492.1,857.9 493.1,870.9 494.4,883.9 C495.7,896.9 497.5,914.5 498.7,927.2 C499.9,939.9 500.4,948.0 501.5,960.0 C502.6,972.0 503.8,987.5 505.2,999.3 C506.6,1011.1 508.5,1020.3 509.9,1030.8 C511.3,1041.3 512.4,1051.7 513.8,1062.2 C515.2,1072.7 517.2,1084.4 518.5,1093.6 C519.8,1102.8 520.9,1111.1 521.7,1117.2 C522.5,1123.3 523.0,1127.2 523.5,1130.0 C524.0,1132.8 524.2,1134.0 524.7,1134.3 C525.2,1134.6 525.8,1133.5 526.5,1132.0 C527.2,1130.5 527.8,1130.2 528.7,1125.1 C529.6,1120.0 530.9,1112.0 531.9,1101.5 C532.9,1091.0 534.1,1075.3 535.0,1062.2 C535.9,1049.1 536.5,1036.0 537.4,1022.9 C538.3,1009.8 539.6,994.4 540.5,983.6 C541.4,972.8 541.8,971.7 542.9,958.0 C544.0,944.3 545.7,917.1 547.2,901.2 C548.7,885.4 550.3,874.4 551.9,862.9 C553.5,851.4 555.1,840.8 557.0,832.0 C558.9,823.2 561.3,817.0 563.5,810.0 C565.7,803.0 567.6,796.3 570.0,790.0 C572.4,783.7 575.2,777.4 578.0,772.4 C580.8,767.4 583.8,763.4 587.0,760.0 C590.2,756.6 593.2,754.2 597.0,752.0 C600.8,749.8 605.3,748.1 610.0,746.5 C614.7,744.9 620.4,743.6 625.4,742.5 C630.4,741.4 631.6,740.5 640.0,739.8 C648.4,739.1 663.5,738.3 675.6,738.2 C687.7,738.1 700.3,738.6 712.7,739.1 C725.1,739.6 734.8,740.2 749.8,741.0 C764.8,741.8 794.1,743.2 803.0,743.7" stroke="#5B9BD5"/>
<path d="M174.7,755.6 C187.2,755.7 230.8,755.8 250.0,756.2 C269.2,756.6 279.2,757.6 290.0,758.2 C300.8,758.8 308.4,759.5 315.0,760.0 C321.6,760.5 324.5,760.4 329.3,761.0 C334.1,761.6 339.0,762.7 343.9,763.9 C348.8,765.1 354.6,766.6 358.5,768.3 C362.4,770.0 364.4,771.9 367.3,774.1 C370.2,776.3 373.2,778.8 376.1,781.5 C379.0,784.2 382.5,787.5 384.9,790.2 C387.3,792.9 388.8,795.2 390.7,797.6 C392.6,800.0 394.7,802.9 396.6,804.9 C398.6,806.9 400.7,808.2 402.4,809.8 C404.1,811.4 405.0,811.5 406.9,814.6 C408.8,817.7 411.6,824.2 413.9,828.5 C416.2,832.8 418.2,836.6 420.8,840.6 C423.4,844.6 427.2,849.0 429.4,852.7 C431.6,856.5 432.5,857.9 433.8,863.1 C435.1,868.3 436.1,876.1 437.2,883.9 C438.3,891.7 439.5,901.2 440.7,909.9 C441.9,918.5 443.0,927.1 444.2,935.8 C445.4,944.4 446.6,954.4 447.6,961.8 C448.7,969.2 449.8,976.5 450.5,980.0 C451.2,983.5 451.4,982.8 451.9,983.0 C452.4,983.2 452.9,982.3 453.5,981.0 C454.1,979.7 454.6,979.6 455.4,975.0 C456.1,970.4 457.1,962.6 458.0,953.2 C458.9,943.8 459.7,930.0 460.6,918.5 C461.5,907.0 462.3,895.4 463.2,883.9 C464.1,872.4 464.8,859.4 465.8,849.3 C466.8,839.2 468.0,831.4 469.3,823.3 C470.6,815.2 472.2,807.4 473.6,800.8 C475.0,794.2 476.3,789.5 477.9,783.5 C479.4,777.5 480.8,770.0 482.9,764.6 C485.0,759.2 488.1,754.3 490.7,751.0 C493.3,747.7 495.6,746.8 498.5,745.0 C501.4,743.2 503.4,741.3 508.3,740.2 C513.2,739.1 521.3,738.4 527.8,738.3 C534.3,738.1 539.2,738.8 547.3,739.3 C555.4,739.8 566.8,740.6 576.6,741.2 C586.4,741.9 595.3,742.6 605.9,743.2 C616.5,743.9 628.4,744.6 640.0,745.1 C651.6,745.6 660.4,746.0 675.6,746.5 C690.8,747.0 710.0,747.9 731.2,748.4 C752.4,748.9 791.0,749.1 803.0,749.3" stroke="#ED7D31"/>
<path d="M174.7,756.8 C187.2,756.9 230.8,756.8 250.0,757.3 C269.2,757.8 280.0,759.0 290.0,760.0 C300.0,761.0 303.4,762.1 310.0,763.0 C316.6,763.9 324.1,764.5 329.3,765.4 C334.5,766.3 337.4,766.8 341.0,768.3 C344.6,769.8 347.8,771.4 351.2,774.1 C354.6,776.8 358.3,780.7 361.5,784.4 C364.7,788.1 367.5,792.2 370.2,796.1 C372.9,800.0 375.2,803.4 377.6,807.8 C380.1,812.2 382.7,817.5 384.9,822.4 C387.1,827.3 388.8,831.7 390.7,837.1 C392.6,842.5 394.9,848.8 396.6,854.6 C398.3,860.4 399.6,865.2 401.0,872.0 C402.4,878.8 404.0,892.8 405.2,895.5 C406.4,898.2 407.2,892.6 408.2,888.0 C409.2,883.4 410.0,876.5 411.2,868.0 C412.4,859.5 414.4,847.1 415.6,837.1 C416.8,827.1 417.5,816.3 418.5,807.8 C419.5,799.3 420.3,793.0 421.5,785.9 C422.7,778.8 424.4,770.5 425.9,765.4 C427.3,760.3 428.5,758.5 430.2,755.1 C431.9,751.7 433.4,747.6 436.1,744.9 C438.8,742.2 442.4,740.0 446.3,738.8 C450.2,737.6 454.1,737.8 459.5,737.8 C464.9,737.8 472.5,738.3 479.0,739.0 C485.5,739.7 492.0,741.2 498.5,742.2 C505.0,743.2 508.2,744.3 518.0,745.1 C527.8,745.9 536.8,746.5 557.1,747.1 C577.4,747.7 599.0,747.9 640.0,748.5 C681.0,749.1 775.8,750.6 803.0,751.0" stroke="#A5A5A5"/>
<path d="M174.7,756.5 C187.2,756.6 232.4,756.6 250.0,757.2 C267.6,757.8 271.7,758.9 280.0,760.0 C288.3,761.1 294.2,762.7 300.0,764.0 C305.8,765.3 310.9,766.8 315.0,768.0 C319.1,769.2 322.0,769.5 324.9,771.2 C327.8,773.0 329.5,776.3 332.2,778.5 C334.9,780.7 338.3,781.7 341.0,784.4 C343.7,787.1 345.9,790.5 348.3,794.6 C350.7,798.8 353.4,805.1 355.6,809.3 C357.8,813.4 359.6,815.9 361.5,819.5 C363.4,823.1 365.6,827.8 367.3,831.2 C369.0,834.6 370.4,838.1 371.7,840.0 C373.0,841.9 374.2,843.2 375.4,842.5 C376.6,841.8 377.9,839.9 379.0,835.6 C380.1,831.3 381.0,823.2 382.0,816.6 C383.0,810.0 383.9,802.5 384.9,796.1 C385.9,789.8 386.7,784.4 387.8,778.5 C388.9,772.6 390.4,765.4 391.5,761.0 C392.6,756.6 393.1,754.5 394.5,752.0 C395.9,749.5 397.4,747.8 400.0,746.0 C402.6,744.2 405.8,741.9 410.0,741.0 C414.2,740.1 419.0,740.5 425.0,740.5 C431.0,740.5 438.5,740.2 446.0,741.0 C453.5,741.8 461.3,744.3 470.0,745.5 C478.7,746.7 483.5,747.2 498.0,748.0 C512.5,748.8 533.3,749.5 557.0,750.0 C580.7,750.5 599.0,750.6 640.0,751.0 C681.0,751.4 775.8,752.2 803.0,752.5" stroke="#FFC000"/>
<path d="M174.7,754.6 C187.2,754.8 232.4,754.8 250.0,755.8 C267.6,756.8 271.7,758.8 280.0,760.5 C288.3,762.2 294.2,764.2 300.0,766.0 C305.8,767.8 310.6,769.3 315.0,771.0 C319.4,772.7 323.4,773.5 326.3,776.0 C329.2,778.5 330.5,783.0 332.2,786.0 C333.9,789.0 334.9,791.2 336.6,794.0 C338.3,796.8 340.3,800.2 342.4,802.5 C344.5,804.8 347.1,807.8 349.0,808.0 C350.9,808.2 352.5,807.0 354.1,803.5 C355.7,800.0 357.0,793.2 358.5,787.3 C360.0,781.4 361.5,773.7 362.9,768.3 C364.2,762.9 365.2,758.9 366.6,755.1 C368.0,751.3 369.1,747.9 371.0,745.5 C372.9,743.1 374.8,741.8 378.0,741.0 C381.2,740.2 386.0,740.5 390.0,740.5 C394.0,740.5 395.3,740.4 402.0,741.0 C408.7,741.6 417.0,742.8 430.0,744.0 C443.0,745.2 458.3,746.8 480.0,748.0 C501.7,749.2 523.3,750.2 560.0,751.0 C596.7,751.8 659.5,752.5 700.0,753.0 C740.5,753.5 785.8,753.8 803.0,754.0" stroke="#4472C4"/>
<path d="M174.7,755.2 C186.3,755.4 228.7,755.7 244.6,756.5 C260.5,757.3 262.4,758.5 270.0,760.0 C277.6,761.5 284.3,763.5 290.0,765.5 C295.7,767.5 300.0,770.1 304.1,772.3 C308.2,774.5 311.6,776.5 314.6,778.5 C317.6,780.5 319.6,782.9 322.0,784.4 C324.4,785.9 327.1,787.3 329.3,787.3 C331.5,787.3 333.4,786.3 335.1,784.4 C336.8,782.5 338.0,779.3 339.5,775.6 C341.0,771.9 342.7,765.8 343.9,762.4 C345.1,759.0 345.8,757.3 346.8,755.1 C347.8,752.9 348.6,750.7 350.0,749.0 C351.4,747.3 352.5,746.0 355.0,745.0 C357.5,744.0 360.8,743.2 365.0,743.0 C369.2,742.8 370.8,743.2 380.0,744.0 C389.2,744.8 400.0,746.8 420.0,748.0 C440.0,749.2 470.0,750.2 500.0,751.0 C530.0,751.8 549.5,752.5 600.0,753.0 C650.5,753.5 769.2,753.8 803.0,754.0" stroke="#70AD47"/>
<path d="M174.7,753.9 C179.4,754.0 194.1,754.0 203.1,754.1 C212.1,754.2 222.0,754.4 228.9,754.6 C235.8,754.8 239.2,755.0 244.4,755.5 C249.5,755.9 255.3,756.8 259.9,757.4 C264.4,758.0 268.0,758.5 271.5,759.2 C274.9,759.8 277.6,760.4 280.6,761.2 C283.7,762.0 287.4,763.1 289.8,763.9 C292.1,764.7 292.9,765.3 294.7,766.1 C296.5,766.8 298.5,768.3 300.5,768.5 C302.5,768.8 304.8,768.3 306.6,767.5 C308.3,766.7 309.7,765.5 311.1,763.9 C312.5,762.3 313.7,759.7 314.9,757.7 C316.2,755.8 317.3,753.7 318.7,752.2 C320.1,750.6 321.5,749.2 323.3,748.3 C325.1,747.3 327.6,746.8 329.4,746.4 C331.2,746.1 331.9,745.9 333.9,746.0 C335.9,746.1 338.2,746.4 341.5,746.9 C344.8,747.3 348.9,748.0 353.8,748.5 C358.7,749.1 363.8,749.6 370.8,750.2 C377.8,750.8 387.4,751.5 395.7,751.9 C404.1,752.4 411.2,752.7 420.9,753.0 C430.6,753.3 436.8,753.4 453.9,753.7 C471.0,754.0 500.4,754.5 523.7,754.8 C547.0,755.0 564.4,755.1 593.5,755.2 C622.6,755.3 663.3,755.4 698.2,755.5 C733.1,755.6 785.5,755.6 802.9,755.6" stroke="#9E480E"/>
<path d="M174.7,755.1 C179.4,755.2 194.1,755.2 203.1,755.3 C212.1,755.4 222.0,755.6 228.9,755.8 C235.8,756.0 239.2,756.0 244.4,756.4 C249.5,756.7 255.3,757.4 259.9,757.9 C264.4,758.5 268.0,758.9 271.5,759.5 C274.9,760.0 277.6,760.6 280.6,761.3 C283.7,762.0 286.7,762.8 289.8,763.9 C292.8,765.0 295.9,766.5 298.9,767.8 C302.0,769.1 305.6,770.4 308.1,771.7 C310.6,773.0 312.4,775.4 314.2,775.7 C315.9,776.1 317.2,775.3 318.7,773.9 C320.2,772.6 321.9,770.0 323.3,767.5 C324.7,765.0 325.8,761.7 327.1,759.1 C328.3,756.6 329.5,754.1 330.9,752.2 C332.3,750.2 333.9,748.6 335.5,747.4 C337.0,746.2 338.3,745.7 340.1,745.2 C341.9,744.7 343.9,744.5 346.2,744.5 C348.4,744.5 351.0,744.7 353.8,745.0 C356.6,745.4 360.1,746.0 362.9,746.4 C365.8,746.9 367.5,747.2 370.8,747.7 C374.2,748.1 377.9,748.7 383.1,749.2 C388.3,749.7 395.6,750.4 401.9,750.8 C408.2,751.3 412.2,751.6 420.9,751.9 C429.5,752.3 436.8,752.5 453.9,752.9 C471.0,753.3 500.4,754.0 523.7,754.4 C547.0,754.7 564.4,754.8 593.5,754.9 C622.6,755.1 663.3,755.3 698.2,755.4 C733.1,755.5 785.5,755.5 802.9,755.5" stroke="#255E91"/>
<path d="M174.7,756.5 C179.4,756.6 194.1,756.6 203.1,756.7 C212.1,756.8 222.0,757.1 228.9,757.2 C235.8,757.3 239.2,757.2 244.4,757.4 C249.5,757.6 255.3,758.2 259.9,758.6 C264.4,759.0 268.0,759.4 271.5,759.9 C274.9,760.3 278.3,760.9 280.6,761.4 C283.0,761.9 283.9,762.4 285.7,762.9 C287.4,763.3 289.6,764.1 291.3,764.2 C293.0,764.2 294.3,764.0 295.9,763.3 C297.4,762.6 299.0,761.4 300.5,760.0 C302.0,758.6 303.5,756.5 305.0,754.9 C306.5,753.4 307.9,751.6 309.7,750.5 C311.4,749.4 313.4,748.8 315.7,748.3 C318.0,747.8 320.5,747.5 323.3,747.5 C326.1,747.5 328.9,747.8 332.5,748.1 C336.0,748.5 340.1,749.2 344.6,749.7 C349.2,750.1 355.5,750.7 359.8,751.0 C364.2,751.4 366.9,751.5 370.8,751.7 C374.7,752.0 376.8,752.1 383.1,752.3 C389.3,752.6 396.4,753.0 408.2,753.2 C420.0,753.5 434.7,753.6 453.9,753.9 C473.1,754.2 500.4,754.7 523.7,754.9 C547.0,755.1 564.4,755.2 593.5,755.3 C622.6,755.4 663.3,755.5 698.2,755.5 C733.1,755.6 785.5,755.6 802.9,755.6" stroke="#636363"/>
<path d="M174.7,756.5 C179.4,756.6 194.1,756.6 203.1,756.7 C212.1,756.8 222.0,757.1 228.9,757.2 C235.8,757.3 239.2,757.2 244.4,757.4 C249.5,757.6 255.3,758.2 259.9,758.6 C264.4,759.0 268.5,759.5 271.5,759.9 C274.5,760.2 276.1,760.7 277.9,760.9 C279.7,761.2 280.7,761.5 282.2,761.6 C283.6,761.6 285.2,761.5 286.7,761.1 C288.2,760.6 289.8,759.9 291.3,758.8 C292.9,757.8 294.3,756.2 295.9,754.9 C297.4,753.7 298.7,752.5 300.5,751.6 C302.3,750.7 304.5,750.0 306.6,749.5 C308.6,749.0 310.3,748.8 312.6,748.7 C314.9,748.6 316.9,748.7 320.2,748.9 C323.5,749.2 327.4,749.7 332.5,750.2 C337.6,750.7 344.3,751.4 350.7,751.9 C357.1,752.3 363.3,752.7 370.8,753.0 C378.3,753.3 387.1,753.4 395.7,753.6 C404.3,753.7 412.7,753.9 422.4,754.0 C432.1,754.1 437.0,754.1 453.9,754.3 C470.8,754.5 500.4,755.0 523.7,755.2 C547.0,755.4 564.4,755.4 593.5,755.4 C622.6,755.5 663.3,755.6 698.2,755.6 C733.1,755.7 785.5,755.7 802.9,755.7" stroke="#997300"/>
<path d="M174.7,756.5 C179.4,756.6 194.1,756.6 203.1,756.7 C212.1,756.8 222.0,757.1 228.9,757.2 C235.8,757.3 239.2,757.2 244.4,757.4 C249.5,757.6 256.0,758.3 259.9,758.6 C263.7,759.0 265.1,759.3 267.6,759.5 C270.0,759.7 272.4,760.0 274.6,759.9 C276.7,759.9 278.8,759.7 280.6,759.3 C282.4,758.8 283.7,758.0 285.3,757.2 C286.8,756.4 288.0,755.3 289.8,754.4 C291.5,753.5 293.8,752.3 295.9,751.6 C297.9,750.9 299.9,750.4 301.9,750.1 C304.0,749.8 306.1,749.8 308.1,749.8 C310.1,749.8 311.6,749.8 314.2,749.9 C316.7,750.1 319.8,750.5 323.3,750.8 C326.9,751.1 330.9,751.4 335.5,751.7 C340.0,752.1 344.8,752.4 350.7,752.7 C356.6,753.1 363.3,753.5 370.8,753.7 C378.3,753.9 387.1,754.0 395.7,754.1 C404.3,754.3 412.7,754.5 422.4,754.6 C432.1,754.7 437.0,754.7 453.9,754.8 C470.8,755.0 500.4,755.3 523.7,755.4 C547.0,755.6 564.4,755.5 593.5,755.6 C622.6,755.6 663.3,755.7 698.2,755.7 C733.1,755.7 785.5,755.7 802.9,755.7" stroke="#264478"/>
</g>
<line x1="166.2" y1="667.2" x2="174.7" y2="667.2" stroke="#000" stroke-width="4"/>
<text x="148.5" y="678.2" text-anchor="end" font-family='"Liberation Serif", serif' font-weight="bold" font-size="33">500</text>
<line x1="166.2" y1="755.8" x2="174.7" y2="755.8" stroke="#000" stroke-width="4"/>
<text x="148.5" y="766.8" text-anchor="end" font-family='"Liberation Serif", serif' font-weight="bold" font-size="33">0</text>
<line x1="166.2" y1="844.3" x2="174.7" y2="844.3" stroke="#000" stroke-width="4"/>
<text x="148.5" y="855.3" text-anchor="end" font-family='"Liberation Serif", serif' font-weight="bold" font-size="33">-500</text>
<line x1="166.2" y1="932.9" x2="174.7" y2="932.9" stroke="#000" stroke-width="4"/>
<text x="148.5" y="943.9" text-anchor="end" font-family='"Liberation Serif", serif' font-weight="bold" font-size="33">-1000</text>
<line x1="166.2" y1="1021.5" x2="174.7" y2="1021.5" stroke="#000" stroke-width="4"/>
<text x="148.5" y="1032.5" text-anchor="end" font-family='"Liberation Serif", serif' font-weight="bold" font-size="33">-1500</text>
<line x1="166.2" y1="1110.0" x2="174.7" y2="1110.0" stroke="#000" stroke-width="4"/>
<text x="148.5" y="1121.0" text-anchor="end" font-family='"Liberation Serif", serif' font-weight="bold" font-size="33">-2000</text>
<line x1="166.2" y1="1198.5" x2="174.7" y2="1198.5" stroke="#000" stroke-width="4"/>
<text x="148.5" y="1209.5" text-anchor="end" font-family='"Liberation Serif", serif' font-weight="bold" font-size="33">-2500</text>
<text transform="translate(41,917.5) rotate(-90)" text-anchor="middle" font-family='"Liberation Serif", serif' font-weight="bold" font-size="36">Amplitude sensitivity (RIU<tspan font-size="24" dy="-11.5">-1</tspan><tspan dy="11.5">)</tspan></text>
<text x="497" y="1254.5" text-anchor="middle" font-family='"Liberation Serif", serif' font-weight="bold" font-size="36">Wavelength (μm)</text>
<text x="948" y="1200.5" text-anchor="middle" font-family='"Liberation Serif", serif' font-size="43">(b)</text>
<line x1="850.4" y1="685.6" x2="907.8" y2="685.6" stroke="#5B9BD5" stroke-width="3.4"/>
<text x="914" y="696.1" font-family='"Liberation Serif", serif' font-weight="bold" font-size="32">n=1.41</text>
<line x1="850.4" y1="717.9" x2="907.8" y2="717.9" stroke="#ED7D31" stroke-width="3.4"/>
<text x="914" y="728.4" font-family='"Liberation Serif", serif' font-weight="bold" font-size="32">n=1.4</text>
<line x1="850.4" y1="750.3" x2="907.8" y2="750.3" stroke="#A5A5A5" stroke-width="3.4"/>
<text x="914" y="760.8" font-family='"Liberation Serif", serif' font-weight="bold" font-size="32">n=1.39</text>
<line x1="850.4" y1="782.6" x2="907.8" y2="782.6" stroke="#FFC000" stroke-width="3.4"/>
<text x="914" y="793.1" font-family='"Liberation Serif", serif' font-weight="bold" font-size="32">n=1.38</text>
<line x1="850.4" y1="815.0" x2="907.8" y2="815.0" stroke="#4472C4" stroke-width="3.4"/>
<text x="914" y="825.5" font-family='"Liberation Serif", serif' font-weight="bold" font-size="32">n=1.37</text>
<line x1="850.4" y1="847.3" x2="907.8" y2="847.3" stroke="#70AD47" stroke-width="3.4"/>
<text x="914" y="857.8" font-family='"Liberation Serif", serif' font-weight="bold" font-size="32">n=1.36</text>
<line x1="850.4" y1="879.6" x2="907.8" y2="879.6" stroke="#255E91" stroke-width="3.4"/>
<text x="914" y="890.1" font-family='"Liberation Serif", serif' font-weight="bold" font-size="32">n=1.35</text>
<line x1="850.4" y1="912.0" x2="907.8" y2="912.0" stroke="#9E480E" stroke-width="3.4"/>
<text x="914" y="922.5" font-family='"Liberation Serif", serif' font-weight="bold" font-size="32">n=1.34</text>
<line x1="850.4" y1="944.3" x2="907.8" y2="944.3" stroke="#636363" stroke-width="3.4"/>
<text x="914" y="954.8" font-family='"Liberation Serif", serif' font-weight="bold" font-size="32">n=1.33</text>
<line x1="850.4" y1="976.7" x2="907.8" y2="976.7" stroke="#997300" stroke-width="3.4"/>
<text x="914" y="987.2" font-family='"Liberation Serif", serif' font-weight="bold" font-size="32">n=1.32</text>
<line x1="850.4" y1="1009.0" x2="907.8" y2="1009.0" stroke="#264478" stroke-width="3.4"/>
<text x="914" y="1019.5" font-family='"Liberation Serif", serif' font-weight="bold" font-size="32">n=1.31</text>
<rect x="228.0" y="997.7" width="216.39999999999998" height="186.89999999999986" fill="#fff" stroke="none"/>
<line x1="228.0" y1="1072.6" x2="444.4" y2="1072.6" stroke="#3c3c3c" stroke-width="2"/>
<g clip-path="url(#cib)" fill="none" stroke-width="2.2" stroke-linejoin="round">
<path d="M228.0,1073.2 C231.7,1073.3 243.0,1073.5 250.0,1074.0 C257.0,1074.5 264.7,1075.4 270.0,1076.0 C275.3,1076.6 278.0,1076.3 282.0,1077.5 C286.0,1078.7 290.5,1081.4 294.0,1083.3 C297.5,1085.2 300.3,1086.9 303.0,1089.1 C305.7,1091.2 307.7,1093.2 310.1,1096.2 C312.5,1099.2 314.8,1102.3 317.2,1106.8 C319.6,1111.3 321.9,1117.8 324.3,1123.3 C326.7,1128.8 329.4,1134.2 331.4,1139.8 C333.4,1145.4 334.7,1155.3 336.1,1156.9 C337.5,1158.5 338.4,1155.1 339.6,1149.3 C340.8,1143.5 342.1,1132.5 343.2,1122.1 C344.3,1111.7 345.1,1097.5 346.1,1086.7 C347.1,1075.9 348.0,1065.5 349.1,1057.2 C350.2,1048.9 351.4,1042.0 352.6,1037.1 C353.8,1032.2 354.8,1029.8 356.2,1027.7 C357.6,1025.7 359.1,1024.9 360.9,1024.8 C362.7,1024.7 364.6,1025.7 366.8,1027.1 C369.0,1028.5 371.7,1031.1 373.9,1033.0 C376.1,1034.9 377.4,1036.4 380.0,1038.3 C382.6,1040.2 385.5,1042.4 389.5,1044.6 C393.5,1046.8 399.2,1049.5 404.1,1051.5 C409.0,1053.5 412.1,1054.8 418.8,1056.3 C425.5,1057.8 431.1,1058.8 444.4,1060.5 C457.7,1062.2 480.5,1065.2 498.5,1066.6 C516.5,1068.0 530.1,1068.3 552.6,1069.0 C575.1,1069.7 606.7,1070.4 633.8,1070.8 C660.8,1071.2 701.4,1071.3 714.9,1071.4" stroke="#4F87C4"/>
<path d="M228.0,1073.2 C231.7,1073.3 243.0,1073.5 250.0,1074.0 C257.0,1074.5 264.7,1075.4 270.0,1076.0 C275.3,1076.6 278.0,1076.3 282.0,1077.5 C286.0,1078.7 290.5,1081.4 294.0,1083.3 C297.5,1085.2 300.3,1086.9 303.0,1089.1 C305.7,1091.2 307.7,1093.2 310.1,1096.2 C312.5,1099.2 315.4,1103.5 317.2,1106.8 C319.0,1110.1 319.6,1112.7 321.0,1116.0 C322.4,1119.3 324.0,1125.5 325.5,1126.5 C327.0,1127.5 328.8,1125.4 330.2,1122.1 C331.6,1118.8 332.6,1113.7 333.7,1106.8 C334.8,1099.9 335.7,1089.1 336.7,1080.8 C337.7,1072.5 338.5,1063.9 339.6,1057.2 C340.7,1050.5 341.8,1044.7 343.2,1040.7 C344.6,1036.7 346.5,1034.6 347.9,1033.0 C349.3,1031.4 349.8,1030.9 351.4,1031.2 C353.0,1031.5 354.7,1033.0 357.3,1034.8 C359.9,1036.6 363.0,1039.6 366.8,1041.9 C370.6,1044.2 374.6,1046.5 380.0,1048.9 C385.4,1051.3 392.8,1054.3 399.3,1056.3 C405.8,1058.3 411.3,1059.4 418.8,1060.7 C426.3,1062.0 431.1,1062.6 444.4,1063.9 C457.7,1065.2 480.5,1067.3 498.5,1068.3 C516.5,1069.3 530.1,1069.5 552.6,1070.0 C575.1,1070.5 606.7,1071.0 633.8,1071.3 C660.8,1071.6 701.4,1071.7 714.9,1071.7" stroke="#CC7440"/>
<path d="M228.0,1073.2 C231.7,1073.3 243.0,1073.5 250.0,1074.0 C257.0,1074.5 264.7,1075.4 270.0,1076.0 C275.3,1076.6 278.0,1076.3 282.0,1077.5 C286.0,1078.7 290.5,1081.4 294.0,1083.3 C297.5,1085.2 300.3,1086.9 303.0,1089.1 C305.7,1091.2 308.3,1094.0 310.1,1096.2 C311.9,1098.4 312.6,1100.5 314.0,1102.5 C315.4,1104.5 317.1,1107.7 318.4,1108.0 C319.7,1108.3 320.7,1107.4 321.9,1104.4 C323.1,1101.5 324.3,1096.2 325.5,1090.3 C326.7,1084.4 327.8,1075.7 329.0,1069.0 C330.2,1062.3 331.2,1054.8 332.6,1050.1 C334.0,1045.4 335.5,1042.8 337.3,1040.7 C339.1,1038.6 341.0,1037.5 343.2,1037.4 C345.4,1037.3 347.6,1038.6 350.3,1040.1 C353.1,1041.6 356.2,1044.5 359.7,1046.6 C363.2,1048.7 368.1,1051.0 371.5,1052.5 C374.9,1054.0 377.0,1054.5 380.0,1055.4 C383.0,1056.3 384.7,1057.0 389.5,1058.0 C394.3,1059.0 399.9,1060.6 409.0,1061.7 C418.1,1062.8 429.5,1063.4 444.4,1064.6 C459.3,1065.8 480.5,1067.9 498.5,1068.9 C516.5,1069.8 530.1,1069.9 552.6,1070.4 C575.1,1070.8 606.7,1071.2 633.8,1071.5 C660.8,1071.7 701.4,1071.8 714.9,1071.9" stroke="#8C8C8C"/>
<path d="M228.0,1073.2 C231.7,1073.3 243.0,1073.5 250.0,1074.0 C257.0,1074.5 264.7,1075.4 270.0,1076.0 C275.3,1076.6 278.0,1076.3 282.0,1077.5 C286.0,1078.7 290.5,1081.4 294.0,1083.3 C297.5,1085.2 300.7,1087.3 303.0,1089.1 C305.3,1090.9 306.6,1092.7 308.0,1094.0 C309.4,1095.3 310.2,1096.6 311.3,1096.8 C312.4,1097.0 313.6,1096.9 314.8,1095.0 C316.0,1093.1 317.2,1089.8 318.4,1085.5 C319.6,1081.2 320.7,1074.1 321.9,1069.0 C323.1,1063.9 324.1,1058.6 325.5,1054.8 C326.9,1051.0 328.6,1048.0 330.2,1046.0 C331.8,1044.0 333.1,1042.9 334.9,1042.5 C336.7,1042.1 338.2,1042.5 340.8,1043.6 C343.4,1044.7 346.4,1046.8 350.3,1048.9 C354.2,1051.0 359.4,1054.0 364.4,1056.0 C369.3,1058.0 374.2,1059.5 380.0,1060.7 C385.8,1061.9 392.6,1062.5 399.3,1063.2 C406.0,1063.9 412.5,1064.5 420.0,1065.0 C427.5,1065.5 431.3,1065.3 444.4,1066.1 C457.5,1066.9 480.5,1069.2 498.5,1070.0 C516.5,1070.8 530.1,1070.7 552.6,1071.0 C575.1,1071.3 606.7,1071.6 633.8,1071.8 C660.8,1072.0 701.4,1072.0 714.9,1072.1" stroke="#BE9E2E"/>
<path d="M228.0,1073.2 C231.7,1073.3 243.0,1073.5 250.0,1074.0 C257.0,1074.5 264.7,1075.4 270.0,1076.0 C275.3,1076.6 278.0,1076.3 282.0,1077.5 C286.0,1078.7 291.0,1081.7 294.0,1083.3 C297.0,1084.9 298.1,1086.3 300.0,1087.3 C301.9,1088.3 303.7,1089.5 305.4,1089.5 C307.1,1089.5 308.7,1088.8 310.1,1087.0 C311.5,1085.2 312.5,1081.9 313.7,1078.5 C314.9,1075.1 315.8,1070.7 317.2,1066.7 C318.6,1062.8 320.3,1057.8 321.9,1054.8 C323.5,1051.8 325.0,1049.7 326.6,1048.4 C328.2,1047.1 329.8,1047.3 331.4,1047.2 C333.0,1047.1 334.1,1047.1 336.1,1047.8 C338.1,1048.5 340.4,1050.0 343.2,1051.3 C345.9,1052.6 349.1,1054.0 352.6,1055.4 C356.1,1056.8 359.8,1058.2 364.4,1059.6 C369.0,1061.0 374.2,1062.7 380.0,1063.7 C385.8,1064.7 392.6,1065.0 399.3,1065.6 C406.0,1066.2 412.5,1067.0 420.0,1067.5 C427.5,1068.0 431.3,1067.9 444.4,1068.5 C457.5,1069.1 480.5,1070.6 498.5,1071.1 C516.5,1071.6 530.1,1071.5 552.6,1071.7 C575.1,1071.9 606.7,1072.1 633.8,1072.2 C660.8,1072.3 701.4,1072.3 714.9,1072.3" stroke="#4C68AC"/>
</g>
<path d="M228.0,1184.6 V997.7 H444.4 V1184.6 Z" fill="none" stroke="#3c3c3c" stroke-width="2"/>
<line x1="223.0" y1="997.7" x2="228.0" y2="997.7" stroke="#3c3c3c" stroke-width="2"/>
<text x="212.5" y="1003.7" text-anchor="end" font-family='"Liberation Serif", serif' font-weight="bold" font-size="16" transform="translate(212.5,0) scale(1.06,1) translate(-212.5,0)">100</text>
<line x1="223.0" y1="1035.1" x2="228.0" y2="1035.1" stroke="#3c3c3c" stroke-width="2"/>
<text x="212.5" y="1041.1" text-anchor="end" font-family='"Liberation Serif", serif' font-weight="bold" font-size="16" transform="translate(212.5,0) scale(1.06,1) translate(-212.5,0)">50</text>
<line x1="223.0" y1="1072.6" x2="228.0" y2="1072.6" stroke="#3c3c3c" stroke-width="2"/>
<text x="212.5" y="1078.6" text-anchor="end" font-family='"Liberation Serif", serif' font-weight="bold" font-size="16" transform="translate(212.5,0) scale(1.06,1) translate(-212.5,0)">0</text>
<line x1="223.0" y1="1110.1" x2="228.0" y2="1110.1" stroke="#3c3c3c" stroke-width="2"/>
<text x="212.5" y="1116.1" text-anchor="end" font-family='"Liberation Serif", serif' font-weight="bold" font-size="16" transform="translate(212.5,0) scale(1.06,1) translate(-212.5,0)">-50</text>
<line x1="223.0" y1="1147.5" x2="228.0" y2="1147.5" stroke="#3c3c3c" stroke-width="2"/>
<text x="212.5" y="1153.5" text-anchor="end" font-family='"Liberation Serif", serif' font-weight="bold" font-size="16" transform="translate(212.5,0) scale(1.06,1) translate(-212.5,0)">-100</text>
<line x1="223.0" y1="1185.0" x2="228.0" y2="1185.0" stroke="#3c3c3c" stroke-width="2"/>
<text x="212.5" y="1191.0" text-anchor="end" font-family='"Liberation Serif", serif' font-weight="bold" font-size="16" transform="translate(212.5,0) scale(1.06,1) translate(-212.5,0)">-150</text>
<line x1="228.0" y1="1072.6" x2="228.0" y2="1077.6" stroke="#3c3c3c" stroke-width="2"/>
<text x="228.0" y="1098" text-anchor="middle" font-family='"Liberation Serif", serif' font-weight="bold" font-size="16" transform="translate(228.0,0) scale(1.06,1) translate(-228.0,0)">0.4</text>
<line x1="282.1" y1="1072.6" x2="282.1" y2="1077.6" stroke="#3c3c3c" stroke-width="2"/>
<text x="282.1" y="1098" text-anchor="middle" font-family='"Liberation Serif", serif' font-weight="bold" font-size="16" transform="translate(282.1,0) scale(1.06,1) translate(-282.1,0)">0.5</text>
<line x1="336.2" y1="1072.6" x2="336.2" y2="1077.6" stroke="#3c3c3c" stroke-width="2"/>
<text x="336.2" y="1098" text-anchor="middle" font-family='"Liberation Serif", serif' font-weight="bold" font-size="16" transform="translate(336.2,0) scale(1.06,1) translate(-336.2,0)">0.6</text>
<line x1="390.3" y1="1072.6" x2="390.3" y2="1077.6" stroke="#3c3c3c" stroke-width="2"/>
<text x="390.3" y="1098" text-anchor="middle" font-family='"Liberation Serif", serif' font-weight="bold" font-size="16" transform="translate(390.3,0) scale(1.06,1) translate(-390.3,0)">0.7</text>
<line x1="444.4" y1="1072.6" x2="444.4" y2="1077.6" stroke="#3c3c3c" stroke-width="2"/>
<text x="444.4" y="1098" text-anchor="middle" font-family='"Liberation Serif", serif' font-weight="bold" font-size="16" transform="translate(444.4,0) scale(1.06,1) translate(-444.4,0)">0.8</text>
<rect x="235.2" y="715.3" width="94.4" height="61.4" fill="none" stroke="#000" stroke-width="1.6"/>
<line x1="281.8" y1="776.7" x2="281.8" y2="981" stroke="#000" stroke-width="2.8"/>
<path d="M281.7,995.4 Q284.8,985.5 290.8,977.6 L281.7,980.6 L272,977.6 Q278.3,985.5 281.7,995.4 Z" fill="#000"/>
</g></svg>
</body></html>
